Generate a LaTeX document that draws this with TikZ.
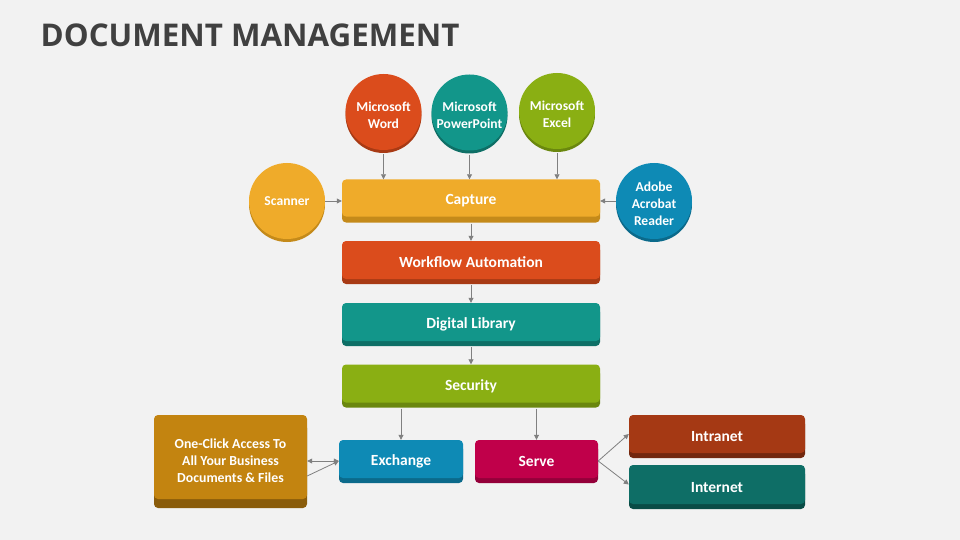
\documentclass[tikz,border=0pt]{standalone}
\usepackage{fontspec}
\setmainfont{Carlito}
\newfontfamily\titlefont{Open Sans}
\usetikzlibrary{arrows.meta}
\newcommand\liftline{\rule{0pt}{16pt}}
\definecolor{bg}{HTML}{F2F2F2}
\definecolor{titlec}{HTML}{404040}
\definecolor{arr}{HTML}{808080}
\definecolor{cYel}{HTML}{EFAB2A}\definecolor{sYel}{HTML}{C48A1A}
\definecolor{cOra}{HTML}{DB4C1C}\definecolor{sOra}{HTML}{A83A14}
\definecolor{cTea}{HTML}{12968A}\definecolor{sTea}{HTML}{0E6F66}
\definecolor{cGrn}{HTML}{8AAF13}\definecolor{sGrn}{HTML}{6A870E}
\definecolor{cBlu}{HTML}{0E8AB5}\definecolor{sBlu}{HTML}{0B6A8B}
\definecolor{cMag}{HTML}{C0004A}\definecolor{sMag}{HTML}{94003A}
\definecolor{cGol}{HTML}{C38410}\definecolor{sGol}{HTML}{8A5C0A}
\definecolor{cRus}{HTML}{A53914}\definecolor{sRus}{HTML}{72270E}
\definecolor{cDte}{HTML}{0E6E66}\definecolor{sDte}{HTML}{094C46}
\tikzset{
  stepbox/.style n args={3}{draw=none, fill=#1, rounded corners=4pt,
    text=white, font=\bfseries\fontsize{15.5}{17}\selectfont, align=center,
    inner sep=0pt, execute at begin node={\rule{0pt}{16pt}},
    preaction={fill=#2, rounded corners=4pt, transform canvas={yshift=-#3pt}}},
  bubble/.style 2 args={circle, draw=none, fill=#1, minimum size=76pt,
    inner sep=0pt, text=white, align=center,
    font=\bfseries\fontsize{13.6}{17}\selectfont,
    preaction={fill=#2, transform canvas={yshift=-3pt}}},
  conn/.style={draw=arr, line width=0.8pt, -{Triangle[width=5pt,length=5pt]}},
  conn2/.style={draw=arr, line width=0.8pt, {Triangle[width=5pt,length=5pt]}-{Triangle[width=5pt,length=5pt]}},
}
\begin{document}
\begin{tikzpicture}[x=1pt,y=-1pt]
\fill[bg] (0,0) rectangle (960,540);
\useasboundingbox (0,0) rectangle (960,540);
\node[anchor=base west, text=titlec, font=\titlefont\bfseries\fontsize{31.3}{36}\selectfont, inner sep=0pt] (title) at (40.5,46.5) {DOCUMENT MANAGEMENT};

% circles
\node[bubble={cOra}{sOra}] (word) at (383.5,112) {\liftline Microsoft\\Word};
\node[bubble={cTea}{sTea}] (ppt) at (469.5,112.5) {\liftline Microsoft\\PowerPoint};
\node[bubble={cGrn}{sGrn}] (excel) at (557,111) {\liftline Microsoft\\Excel};
\node[bubble={cYel}{sYel}] (scanner) at (287,201) {Scanner};
\node[bubble={cBlu}{sBlu}] (adobe) at (654,201) {\liftline Adobe\\Acrobat\\Reader};

% main boxes
\node[stepbox={cYel}{sYel}{6}, minimum width=258pt, minimum height=37pt] (capture) at (471,198) {Capture};
\node[stepbox={cOra}{sOra}{5}, minimum width=258pt, minimum height=38pt] (workflow) at (471,260) {Workflow Automation};
\node[stepbox={cTea}{sTea}{5}, minimum width=258pt, minimum height=38pt] (library) at (471,322) {Digital Library};
\node[stepbox={cGrn}{sGrn}{5}, minimum width=258pt, minimum height=38pt] (security) at (471,383.5) {Security};

\node[stepbox={cBlu}{sBlu}{5}, minimum width=124pt, minimum height=38pt] (exchange) at (401,459) {Exchange};
\node[stepbox={cMag}{sMag}{5}, minimum width=123pt, minimum height=38pt] (serve) at (536.5,459) {Serve};
\node[stepbox={cGol}{sGol}{9}, minimum width=153pt, minimum height=84pt,
  font=\bfseries\fontsize{13.8}{17}\selectfont] (oneclick) at (230.5,457) {\rule{0pt}{16.5pt}One-Click Access To\\All Your Business\\Documents \& Files};
\node[stepbox={cRus}{sRus}{5}, minimum width=176pt, minimum height=38pt] (intranet) at (717,434) {Intranet};
\node[stepbox={cDte}{sDte}{5}, minimum width=176pt, minimum height=39pt] (internet) at (717,484.5) {Internet};

% connectors
\draw[conn, shorten <=4pt] (word.south) -- (word.south |- capture.north);
\draw[conn, shorten <=4pt] (ppt.south) -- (ppt.south |- capture.north);
\draw[conn, shorten <=4pt] (excel.south) -- (excel.south |- capture.north);
\draw[conn] (scanner.east) -- (scanner.east -| capture.west);
\draw[conn] (adobe.west) -- (adobe.west -| capture.east);
\draw[conn, shorten <=7pt] (capture.south) -- (workflow.north);
\draw[conn, shorten <=6pt] (workflow.south) -- (library.north);
\draw[conn, shorten <=6pt] (library.south) -- (security.north);
\draw[conn, shorten <=6pt] (security.south -| exchange.north) -- (exchange.north);
\draw[conn, shorten <=6pt] (security.south -| serve.north) -- (serve.north);
\coordinate (exw) at ([yshift=-2pt]exchange.west);
\coordinate (oclow) at ([yshift=-19pt]oneclick.east);
\draw[conn2] (exw) -- (exw -| oneclick.east);
\draw[conn] (oclow) -- (exw);
\coordinate (sve) at ([yshift=-2pt]serve.east);
\draw[conn] (sve) -- (intranet.west);
\draw[conn] (sve) -- (internet.west);
\end{tikzpicture}
\end{document}
